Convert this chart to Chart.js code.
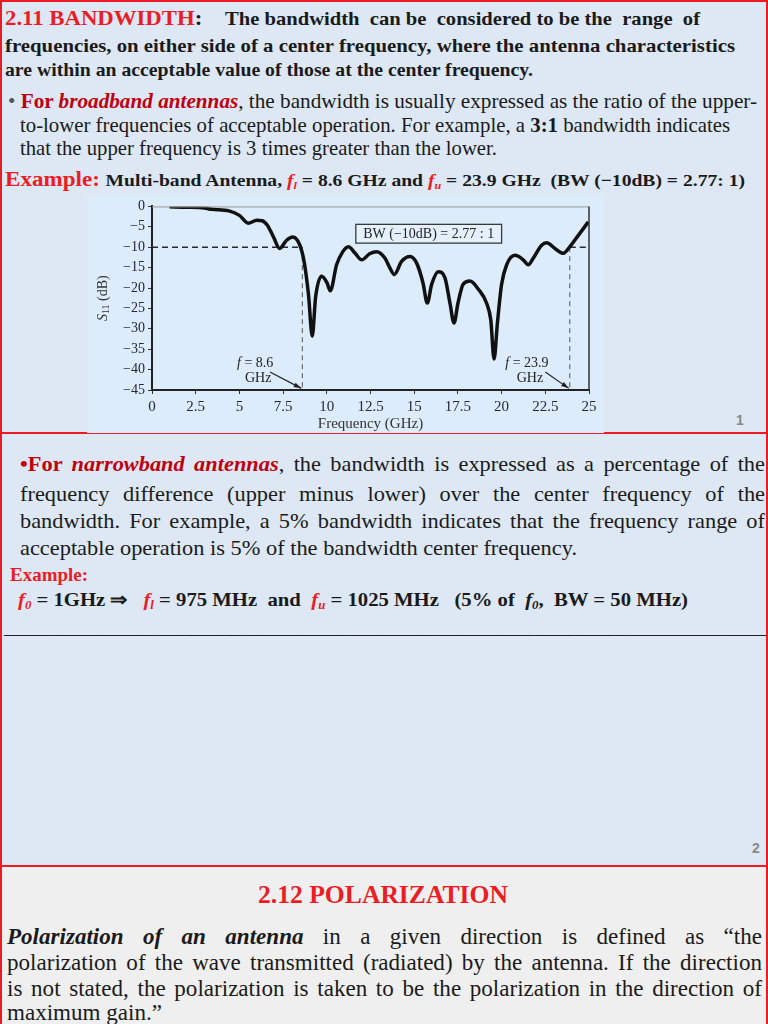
<!DOCTYPE html>
<html>
<head>
<meta charset="utf-8">
<script src="https://cdn.jsdelivr.net/npm/chart.js@4"></script>
<style>
  html, body { margin: 0; padding: 0; }
  body { width: 768px; height: 1024px; position: relative; overflow: hidden; background: #fff;
         font-family: "Liberation Serif", "Times New Roman", serif; color: #1a1a1a; }
  .slide { position: absolute; left: 0; width: 768px; box-sizing: border-box; border: 2px solid #ec1c24; }
  #s1 { top: 0; height: 434px; background: #dde8f4; }
  #s2 { top: 432px; height: 435px; background: #dde8f4; }
  #s3 { top: 865px; height: 170px; background: #efefef; }
  .ln { position: absolute; white-space: nowrap; line-height: 1; transform-origin: 0 50%; }
  .b { font-weight: bold; }
  .r { color: #ec1c24; }
  .dr { color: #c0000e; }
  .i { font-style: italic; }
  .sb { font-size: 0.62em; vertical-align: -0.25em; }
  .pg { position: absolute; font-family: "Liberation Sans", Arial, sans-serif; font-weight: bold;
        font-size: 14px; color: #8a8a8a; }
  #chartBox { position: absolute; left: 87px; top: 195px; width: 517px; height: 238px; background: #dcecfa; }
</style>
</head>
<body>
<div class="slide" id="s1"></div>
<div class="slide" id="s2"></div>
<div class="slide" id="s3"></div>

<!-- slide 1 -->
<div class="ln b" style="left:5px;top:8px;font-size:21px" data-w="695"><span class="r">2.11 BANDWIDTH</span>:&nbsp;&nbsp;&nbsp; <span style="font-size:19px">The bandwidth&nbsp; can be&nbsp; considered to be the&nbsp; range&nbsp; of</span></div>
<div class="ln b" style="left:5px;top:36px;font-size:19px" data-w="730">frequencies, on either side of a center frequency, where the antenna characteristics</div>
<div class="ln b" style="left:5px;top:60px;font-size:19px" data-w="528">are within an acceptable value of those at the center frequency.</div>
<div class="ln" style="left:8px;top:91px;font-size:21px" data-w="749"><span style="color:#555">•</span> <span class="b dr">For <span class="i">broadband antennas</span></span>, the bandwidth is usually expressed as the ratio of the upper-</div>
<div class="ln" style="left:20px;top:115px;font-size:21px" data-w="710">to-lower frequencies of acceptable operation. For example, a <b>3:1</b> bandwidth indicates</div>
<div class="ln" style="left:20px;top:138px;font-size:21px" data-w="477">that the upper frequency is 3 times greater than the lower.</div>
<div class="ln b" style="left:5px;top:169px;font-size:20px" data-w="740"><span class="r">Example:</span> <span style="font-size:17px">Multi-band Antenna, <span class="r i">f<span class="sb">l</span></span> = 8.6 GHz and <span class="r i">f<span class="sb">u</span></span> = 23.9 GHz&nbsp; (BW (−10dB) = 2.77: 1)</span></div>
<div class="pg" style="left:736px;top:412px">1</div>

<div id="chartBox"><canvas id="c" width="517" height="238"></canvas></div>

<!-- slide 2 -->
<div class="ln" style="left:20px;top:453px;font-size:22px" data-w="745" data-j="s2"><span class="b dr">•For <span class="i">narrowband antennas</span></span>, the bandwidth is expressed as a percentage of the</div>
<div class="ln" style="left:20px;top:483px;font-size:22px" data-w="745" data-j="s2">frequency difference (upper minus lower) over the center frequency of the</div>
<div class="ln" style="left:20px;top:510px;font-size:22px" data-w="745" data-j="s2">bandwidth. For example, a 5% bandwidth indicates that the frequency range of</div>
<div class="ln" style="left:20px;top:537px;font-size:22px" data-w="557" data-g="s2">acceptable operation is 5% of the bandwidth center frequency.</div>
<div class="ln b r" style="left:10px;top:565px;font-size:19px" data-w="78">Example:</div>
<div class="ln b" style="left:18px;top:590px;font-size:19px" data-w="670"><span class="r i">f<span class="sb">0</span></span> = 1GHz ⇒&nbsp;&nbsp; <span class="r i">f<span class="sb">l</span></span> = 975 MHz&nbsp; and&nbsp; <span class="r i">f<span class="sb">u</span></span> = 1025 MHz&nbsp;&nbsp; (5% of&nbsp; <span class="i">f<span class="sb">0</span></span>,&nbsp; BW = 50 MHz)</div>
<div class="ln" style="left:4px;top:618px;font-size:19px;color:#222" data-w="762">____________________________________________________________________________</div>
<div class="pg" style="left:752px;top:840px">2</div>

<!-- slide 3 -->
<div class="ln b r" style="left:258px;top:882px;font-size:25px" data-w="250">2.12 POLARIZATION</div>
<div class="ln" style="left:7px;top:924px;font-size:24px" data-w="755" data-j="s3"><span class="b i">Polarization of an antenna</span> in a given direction is defined as “the</div>
<div class="ln" style="left:7px;top:950px;font-size:24px" data-w="755" data-j="s3">polarization of the wave transmitted (radiated) by the antenna. If the direction</div>
<div class="ln" style="left:7px;top:976px;font-size:24px" data-w="755" data-j="s3">is not stated, the polarization is taken to be the polarization in the direction of</div>
<div class="ln" style="left:7px;top:1000px;font-size:24px" data-w="155" data-g="s3">maximum gain.”</div>

<script>
// fit each text line to the width it has on the slide;
// justified lines borrow the squeeze of the last line of their paragraph
const lines = [...document.querySelectorAll('.ln')];
const squeeze = {};
lines.forEach(el => { el._w = el.getBoundingClientRect().width; });
lines.filter(el => !el.dataset.j).forEach(el => {
  const k = +el.dataset.w / el._w;
  el.style.transform = 'scaleX(' + k + ')';
  if (el.dataset.g) squeeze[el.dataset.g] = k;
});
lines.filter(el => el.dataset.j).forEach(el => {
  const c = squeeze[el.dataset.j] || 0.88;
  const n = (el.textContent.match(/ /g) || []).length;
  el.style.wordSpacing = ((+el.dataset.w / c - el._w) / n) + 'px';
  el.style.transform = 'scaleX(' + c + ')';
});

// S11 curve
const freqGHz = [1.0, 2.0, 3.0, 3.4, 4.4, 5.0, 5.5, 6.0, 6.3, 6.6, 6.95, 7.3, 7.7, 8.05, 8.45, 8.7,
  8.95, 9.17, 9.36, 9.7, 10.0, 10.2, 10.56, 10.9, 11.24, 11.62, 12.0, 12.45, 12.85, 13.33, 13.6,
  13.86, 14.28, 14.76, 15.14, 15.5, 15.75, 16.0, 16.38, 16.76, 17.05, 17.28, 17.5, 17.8, 18.19,
  18.67, 19.15, 19.38, 19.57, 19.76, 20.0, 20.29, 20.77, 21.24, 21.53, 21.81, 22.29, 22.58, 23.05,
  23.53, 23.9, 24.39, 24.96];
const s11dB = [-0.1, -0.2, -0.4, -0.7, -1.1, -2.2, -4.1, -3.4, -3.5, -4.6, -7.5, -10.3, -8.3, -7.5, -9.4, -13.5,
  -21.5, -31.8, -22.2, -17.1, -18.6, -20.7, -14.3, -11.2, -9.9, -11.5, -13.1, -11.6, -11.1, -12.7, -15.0,
  -16.7, -13.5, -12.3, -13.9, -18.7, -23.7, -19.1, -16.0, -17.5, -23.8, -28.6, -23.8, -19.1, -18.3,
  -20.3, -23.8, -27.8, -37.4, -28.6, -19.1, -14.3, -12.0, -13.1, -14.3, -12.7, -9.5, -8.9, -10.3,
  -11.5, -9.9, -7.1, -3.8];

const xTickValues = [0, 2.5, 5, 7.5, 10, 12.5, 15, 17.5, 20, 22.5, 25];
const xTickLabels = ['0', '2.5', '5', '7.5', '10', '12.5', '15', '17.5', '20', '22.5', '25'];
const yTickValues = [0, -5, -10, -15, -20, -25, -30, -35, -40, -45];
const yTickLabels = ['0', '−5', '−10', '−15', '−20', '−25', '−30', '−35', '−40', '−45'];

const bwLevel = -10;        // dB
const bwEdges = [8.6, 23.9]; // GHz
const bwText = 'BW (−10dB) = 2.77 : 1';

const serif = '"Liberation Serif", "Times New Roman", serif';

function seg(ctx, x1, y1, x2, y2) {
  ctx.beginPath();
  ctx.moveTo(x1, y1);
  ctx.lineTo(x2, y2);
  ctx.stroke();
}

function arrow(ctx, x1, y1, x2, y2) {
  seg(ctx, x1, y1, x2, y2);
  const a = Math.atan2(y2 - y1, x2 - x1);
  ctx.beginPath();
  ctx.moveTo(x2, y2);
  ctx.lineTo(x2 - 8 * Math.cos(a - 0.3), y2 - 8 * Math.sin(a - 0.3));
  ctx.lineTo(x2 - 8 * Math.cos(a + 0.3), y2 - 8 * Math.sin(a + 0.3));
  ctx.closePath();
  ctx.fill();
}

const marks = {
  id: 'marks',
  beforeDatasetsDraw(chart) {
    const { ctx, scales: { x, y } } = chart;
    const yl = y.getPixelForValue(bwLevel);
    const yb = y.getPixelForValue(-45);
    ctx.save();
    // -10 dB level, dashed
    ctx.strokeStyle = '#2a2a2a';
    ctx.lineWidth = 1.6;
    ctx.setLineDash([6, 4]);
    seg(ctx, x.getPixelForValue(0), yl, x.getPixelForValue(bwEdges[0]), yl);
    seg(ctx, x.getPixelForValue(bwEdges[1]), yl, x.getPixelForValue(25), yl);
    // band edges
    ctx.strokeStyle = '#555';
    ctx.lineWidth = 1;
    ctx.setLineDash([5, 4]);
    bwEdges.forEach(f => seg(ctx, x.getPixelForValue(f), yl, x.getPixelForValue(f), yb));
    ctx.restore();
  },
  afterDraw(chart) {
    const { ctx, chartArea: a, scales: { x, y } } = chart;
    ctx.save();
    // frame: top and right sides
    ctx.strokeStyle = '#999';
    ctx.lineWidth = 1;
    seg(ctx, a.left, a.top + 0.5, a.right, a.top + 0.5);
    ctx.strokeStyle = '#333';
    ctx.lineWidth = 1.5;
    seg(ctx, a.right, a.top, a.right, a.bottom);

    // BW box
    const bx1 = x.getPixelForValue(11.66), bx2 = x.getPixelForValue(20.0);
    const by1 = y.getPixelForValue(-4.4), by2 = y.getPixelForValue(-9.0);
    ctx.fillStyle = '#e4f1fc';
    ctx.fillRect(bx1, by1, bx2 - bx1, by2 - by1);
    ctx.strokeStyle = '#3a3a3a';
    ctx.lineWidth = 1.3;
    ctx.strokeRect(bx1, by1, bx2 - bx1, by2 - by1);
    ctx.fillStyle = '#222';
    ctx.font = '14px ' + serif;
    ctx.textAlign = 'center';
    ctx.textBaseline = 'middle';
    ctx.fillText(bwText, (bx1 + bx2) / 2, (by1 + by2) / 2 + 1);

    // band edge labels with arrows
    const labels = [
      { f: bwEdges[0], tx: 5.9, text: '8.6', ax: 6.75 },
      { f: bwEdges[1], tx: 21.45, text: '23.9', ax: 22.5 }
    ];
    labels.forEach(l => {
      const cx = x.getPixelForValue(l.tx);
      const y1 = y.getPixelForValue(-38.4);
      const y2 = y.getPixelForValue(-42.2);
      ctx.font = 'italic 14px ' + serif;
      const fw = ctx.measureText('f').width;
      ctx.font = '14px ' + serif;
      const rest = ' = ' + l.text;
      const rw = ctx.measureText(rest).width;
      const left = cx - (fw + rw) / 2;
      ctx.fillStyle = '#222';
      ctx.textAlign = 'left';
      ctx.font = 'italic 14px ' + serif;
      ctx.fillText('f', left, y1);
      ctx.font = '14px ' + serif;
      ctx.fillText(rest, left + fw, y1);
      ctx.textAlign = 'center';
      ctx.fillText('GHz', cx + 3, y2);
      ctx.strokeStyle = '#222';
      ctx.lineWidth = 1.2;
      arrow(ctx, x.getPixelForValue(l.ax), y.getPixelForValue(-40.6), x.getPixelForValue(l.f) - 1, y.getPixelForValue(-44.6));
    });

    // y axis title: S11 (dB) with subscript
    ctx.translate(a.left - 49, (a.top + a.bottom) / 2);
    ctx.rotate(-Math.PI / 2);
    ctx.fillStyle = '#333';
    ctx.textBaseline = 'middle';
    ctx.textAlign = 'left';
    ctx.font = 'italic 14px ' + serif;
    const sw = ctx.measureText('S').width;
    ctx.font = '10px ' + serif;
    const nw = ctx.measureText('11').width;
    ctx.font = '14px ' + serif;
    const dw = ctx.measureText(' (dB)').width;
    let px = -(sw + nw + dw) / 2;
    ctx.font = 'italic 14px ' + serif;
    ctx.fillText('S', px, 0);
    px += sw;
    ctx.font = '10px ' + serif;
    ctx.fillText('11', px, 3);
    px += nw;
    ctx.font = '14px ' + serif;
    ctx.fillText(' (dB)', px, 0);
    ctx.restore();
  }
};

new Chart(document.getElementById('c'), {
  type: 'line',
  data: {
    datasets: [{
      data: freqGHz.map((f, i) => ({ x: f, y: s11dB[i] })),
      borderColor: '#111',
      borderWidth: 3.5,
      pointRadius: 0,
      cubicInterpolationMode: 'monotone',
      fill: false
    }]
  },
  options: {
    responsive: false,
    animation: false,
    layout: { padding: { top: 7, right: 15, left: 0, bottom: 0 } },
    plugins: { legend: { display: false }, tooltip: { enabled: false } },
    scales: {
      x: {
        type: 'linear',
        min: 0,
        max: 25,
        afterBuildTicks: s => { s.ticks = xTickValues.map(v => ({ value: v })); },
        afterFit: s => { s.height = 43; },
        ticks: {
          callback: (v, i) => xTickLabels[i],
          color: '#26263a',
          font: { family: serif, size: 15 },
          padding: 4,
          maxRotation: 0
        },
        grid: { drawOnChartArea: false, drawTicks: true, tickLength: 4, color: '#333' },
        border: { color: '#222', width: 2 },
        title: {
          display: true,
          text: 'Frequency (GHz)',
          color: '#333',
          font: { family: serif, size: 15 },
          padding: { top: 0, bottom: 0 }
        }
      },
      y: {
        min: -45,
        max: 0,
        afterBuildTicks: s => { s.ticks = yTickValues.map(v => ({ value: v })); },
        afterFit: s => { s.width = 65; },
        ticks: {
          callback: (v, i) => yTickLabels[i],
          color: '#26263a',
          font: { family: serif, size: 14 },
          padding: 3
        },
        grid: { drawOnChartArea: false, drawTicks: true, tickLength: 4, color: '#333' },
        border: { color: '#222', width: 2 }
      }
    }
  },
  plugins: [marks]
});
</script>
</body>
</html>
